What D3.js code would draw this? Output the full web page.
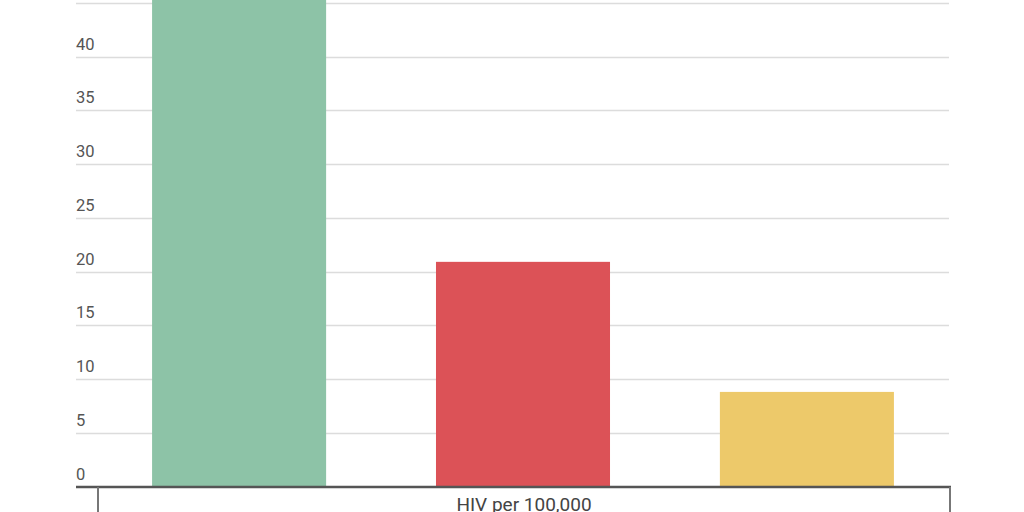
<!DOCTYPE html>
<html>
<head>
<meta charset="utf-8">
<script src="https://cdn.jsdelivr.net/npm/d3@7"></script>
<style>
  html, body { margin: 0; padding: 0; background: #fff; overflow: hidden; }
  svg { display: block; font-family: Roboto, "Noto Sans", sans-serif; }
</style>
</head>
<body>
<svg id="chart" width="1024" height="512"></svg>
<script>
const category = "HIV per 100,000";
const seriesNames = ["Series A", "Series B", "Series C"];
const seriesValues = [52, 20.9, 8.8];
const seriesColors = ["#8dc3a7", "#dc5257", "#edc96a"];
const yTicks = [0, 5, 10, 15, 20, 25, 30, 35, 40, 45];

const svg = d3.select("#chart");

const y = d3.scaleLinear().domain([0, 45]).range([486.5, 2.8]);
const x = d3.scaleBand().domain(seriesNames).range([97, 949]).paddingInner(0.387).paddingOuter(0.194);

// gridlines
svg.append("g").selectAll("line").data(yTicks.filter(d => d > 0)).join("line")
  .attr("x1", 76).attr("x2", 949)
  .attr("y1", d => Math.round(y(d)) + 0.5).attr("y2", d => Math.round(y(d)) + 0.5)
  .attr("stroke", "#dcdcdc").attr("stroke-width", 1.5);

// tick labels
svg.append("g").selectAll("text").data(yTicks.filter(d => d < 45)).join("text")
  .attr("x", 76).attr("y", d => y(d) - 7)
  .attr("font-size", 16.5).attr("fill", "#555")
  .text(d => d);

// bars
svg.append("g").selectAll("rect").data(seriesValues).join("rect")
  .attr("x", (d, i) => x(seriesNames[i]))
  .attr("width", x.bandwidth())
  .attr("y", d => y(d))
  .attr("height", d => y(0) - y(d))
  .attr("fill", (d, i) => seriesColors[i]);

// x axis
svg.append("line").attr("x1", 76).attr("x2", 951).attr("y1", 487).attr("y2", 487)
  .attr("stroke", "#555").attr("stroke-width", 2.5);
svg.append("g").selectAll("line").data([98, 950]).join("line")
  .attr("x1", d => d).attr("x2", d => d).attr("y1", 487).attr("y2", 512)
  .attr("stroke", "#777").attr("stroke-width", 2);

svg.append("text").attr("x", (98 + 950) / 2).attr("y", 510.5)
  .attr("text-anchor", "middle").attr("font-size", 19).attr("fill", "#444")
  .text(category);
</script>
</body>
</html>
